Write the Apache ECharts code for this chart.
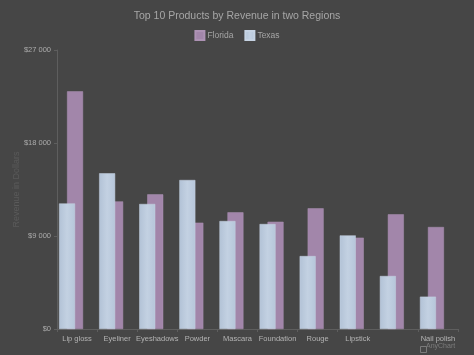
<!DOCTYPE html>
<html>
<head>
<meta charset="utf-8">
<script src="https://cdn.jsdelivr.net/npm/echarts@6/dist/echarts.min.js"></script>
<style>
html,body{margin:0;padding:0;background:#464646;}
#chart{width:474px;height:355px;}
</style>
</head>
<body>
<div id="chart"></div>
<script>
var categories = ['Lip gloss','Eyeliner','Eyeshadows','Powder','Mascara','Foundation','Rouge','Lipstick','Eyebrow pencil','Nail polish'];
var florida = [23000, 12350, 13030, 10290, 11290, 10380, 11680, 8840, 11100, 9870];
var texas = [12150, 15070, 12100, 14420, 10450, 10160, 7060, 9060, 5130, 3130];
var yTicks = [0, 9000, 18000, 27000];

var FONT = '"Liberation Sans", Arial, sans-serif';
var chart = echarts.init(document.getElementById('chart'), null, {renderer:'canvas'});

function money(v){
  var s = String(Math.round(v));
  return '$' + s.replace(/\B(?=(\d{3})+(?!\d))/g, ' ');
}

var texasFill = new echarts.graphic.LinearGradient(0,0,1,0,[
  {offset:0, color:'#b2c2d6'},
  {offset:0.5, color:'#c3d1e2'},
  {offset:1, color:'#b6c6da'}
]);

chart.setOption({
  backgroundColor:'#464646',
  animation:false,
  title:{
    text:'Top 10 Products by Revenue in two Regions',
    left:'center', top:6,
    textStyle:{color:'#a6a6a6', fontSize:10.5, fontWeight:'normal', fontFamily:FONT}
  },
  legend:{
    data:['Florida','Texas'],
    top:25, left:'center',
    itemWidth:9, itemHeight:9, itemGap:11,
    icon:'rect',
    textStyle:{color:'#a6a6a6', fontSize:8.5, fontFamily:FONT, padding:[0,0,0,-2]}
  },
  grid:[
    {left:57, right:16, top:50, bottom:26, containLabel:false, outerBoundsMode:'none'},
    {left:51, right:22, top:50, bottom:26, containLabel:false, outerBoundsMode:'none'}
  ],
  xAxis:[
    {
      type:'category', gridIndex:0, data:categories,
      axisLine:{lineStyle:{color:'#5e5e5e'}},
      axisTick:{show:true, length:3, lineStyle:{color:'#5e5e5e'}},
      axisLabel:{
        color:'#b4b4b4', fontSize:7.5, fontFamily:FONT, margin:6,
        interval:function(index){ return index !== 8; }
      }
    },
    {
      type:'category', gridIndex:1, data:categories,
      show:false
    }
  ],
  yAxis:[
    {
      type:'value', gridIndex:0, min:0, max:27000, interval:9000,
      name:'Revenue in Dollars', nameLocation:'middle', nameGap:36, nameMoveOverlap:false,
      nameTextStyle:{color:'#5a5a5a', fontSize:9, fontFamily:FONT},
      axisLine:{show:true, lineStyle:{color:'#5e5e5e'}},
      axisTick:{show:true, length:3, lineStyle:{color:'#5e5e5e'}},
      splitLine:{show:false},
      axisLabel:{
        color:'#acacac', fontSize:7.5, fontFamily:FONT, margin:6,
        formatter:function(v){ return yTicks.indexOf(v) >= 0 ? money(v) : ''; }
      }
    },
    {
      type:'value', gridIndex:1, min:0, max:27000, interval:9000, show:false,
      splitLine:{show:false}
    }
  ],
  series:[
    {
      name:'Texas', type:'bar', xAxisIndex:1, yAxisIndex:1,
      data:texas, barWidth:16, z:3,
      itemStyle:{color:texasFill, borderColor:'#c6d3e3', borderWidth:0.5},
      emphasis:{disabled:true}
    },
    {
      name:'Florida', type:'bar', xAxisIndex:1, yAxisIndex:1,
      data:florida, barWidth:16, barGap:'-50%', z:2,
      itemStyle:{color:'#a286aa', borderColor:'#ad92b4', borderWidth:0.5},
      emphasis:{disabled:true}
    }
  ],
  color:['#b9c9dd','#a286aa'],
  graphic:[
    {type:'rect', left:418, top:344, shape:{width:6, height:6}, style:{fill:'none', stroke:'#7a7a7a', lineWidth:1}},
    {type:'text', left:426, top:343, style:{text:'AnyChart', fill:'#7c7c7c', font:'7px ' + FONT}}
  ]
});
</script>
</body>
</html>
